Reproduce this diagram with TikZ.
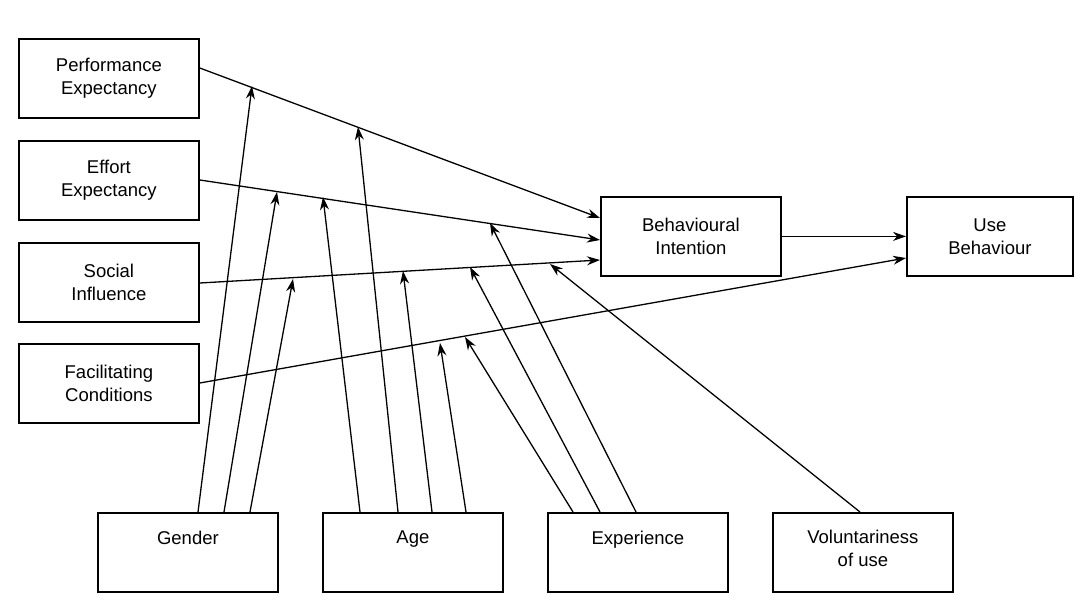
\documentclass[tikz,border=0pt]{standalone}
\usepackage{fontspec}
\setmainfont{Liberation Sans}
\usetikzlibrary{arrows.meta}
\begin{document}
\begin{tikzpicture}[x=1pt,y=-1pt,
  box/.style={draw,line width=1.8pt,minimum width=180pt,minimum height=79pt,align=center,font=\fontsize{18.5}{23}\selectfont,inner sep=0pt},
  top/.style={text depth=30pt},
  arr/.style={line width=1.3pt,-{Stealth[length=13pt,width=9pt]}}]
\useasboundingbox (0,0) rectangle (1086,607);
\node[box,anchor=north west] (pe) at (18,38) {Performance\\Expectancy};
\node[box,anchor=north west] (ee) at (18,140) {Effort\\Expectancy};
\node[box,anchor=north west] (si) at (18,242) {Social\\Influence};
\node[box,anchor=north west] (fc) at (18,343) {Facilitating\\Conditions};
\node[box,anchor=north west] (bi) at (600,196) {Behavioural\\Intention};
\node[box,anchor=north west,minimum width=166pt] (ub) at (906,196) {Use\\Behaviour};
\node[box,top,anchor=north west] (g) at (97,512) {Gender};
\node[box,top,anchor=north west] (a) at (322,512) {Age};
\node[box,top,anchor=north west] (e) at (547,512) {Experience};
\node[box,anchor=north west,text depth=8pt] (v) at (772,512) {Voluntariness\\of use};
% main paths
\draw[arr] (pe.east |- 0,68) -- (bi.west |- 0,218);
\draw[arr] (ee.east |- 0,180) -- (bi.west |- 0,240);
\draw[arr] (si.east |- 0,283) -- (bi.west |- 0,260);
\draw[arr] (fc.east |- 0,383) -- (ub.west |- 0,258);
\draw[arr] (bi) -- (ub);
% moderator start points
\coordinate (g1) at (198,512); \coordinate (g2) at (224,512); \coordinate (g3) at (250,512);
\coordinate (a1) at (360,512); \coordinate (a2) at (398,512); \coordinate (a3) at (432,512); \coordinate (a4) at (466,512);
\coordinate (e1) at (573,512); \coordinate (e2) at (600,512); \coordinate (e3) at (636,512);
\coordinate (v1) at (860,512);
% targets
\coordinate (tg1) at (252,86); \coordinate (tg2) at (277,192); \coordinate (tg3) at (293,279);
\coordinate (ta1) at (323,197); \coordinate (ta2) at (358,127); \coordinate (ta3) at (403,271); \coordinate (ta4) at (440,343);
\coordinate (te1) at (465,337); \coordinate (te2) at (470,267); \coordinate (te3) at (490,223);
\coordinate (tv1) at (550,264);
\foreach \s/\t in {g1/tg1,g2/tg2,g3/tg3,a1/ta1,a2/ta2,a3/ta3,a4/ta4,e1/te1,e2/te2,e3/te3,v1/tv1}
  \draw[arr] (\s) -- (\t);
\end{tikzpicture}
\end{document}
